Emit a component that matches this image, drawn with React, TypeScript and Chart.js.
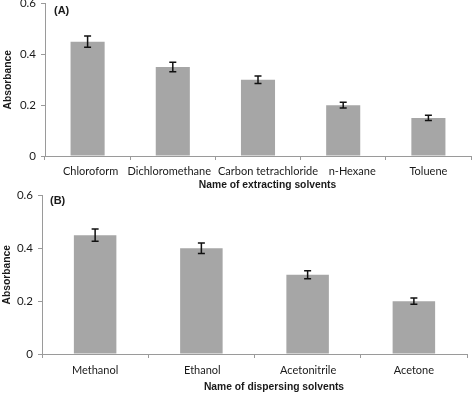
import React, { useEffect, useRef } from "react";
import { Chart, registerables } from "chart.js";

Chart.register(...registerables);

const extractingSolvents = ["Chloroform", "Dichloromethane", "Carbon tetrachloride", "n-Hexane", "Toluene"];
const extractingAbs = [0.45, 0.35, 0.30, 0.20, 0.15];
const extractingErr = [0.022, 0.019, 0.015, 0.011, 0.01];

const dispersingSolvents = ["Methanol", "Ethanol", "Acetonitrile", "Acetone"];
const dispersingAbs = [0.45, 0.40, 0.30, 0.20];
const dispersingErr = [0.023, 0.02, 0.015, 0.012];

const yTicks = [0, 0.2, 0.4, 0.6];

const AXIS = "#9a9a9a";
const BAR = "#a6a6a6";
const TEXT = "#1a1a1a";
const TICK_FONT = "Lato, 'Liberation Sans', sans-serif";

const errorBarPlugin = {
  id: "errorBars",
  afterDatasetsDraw(chart: any, _args: any, opts: any) {
    const errs: number[] = opts.errors || [];
    const meta = chart.getDatasetMeta(0);
    const yScale = chart.scales.y;
    const ctx = chart.ctx;
    const vals = chart.data.datasets[0].data as number[];
    ctx.save();
    ctx.strokeStyle = "#111";
    ctx.lineWidth = 1.5;
    meta.data.forEach((bar: any, i: number) => {
      const x = bar.x;
      const yHi = yScale.getPixelForValue(vals[i] + errs[i]);
      const yLo = yScale.getPixelForValue(vals[i] - errs[i]);
      ctx.beginPath();
      ctx.moveTo(x, yHi);
      ctx.lineTo(x, yLo);
      ctx.moveTo(x - 3.5, yHi);
      ctx.lineTo(x + 3.5, yHi);
      ctx.moveTo(x - 3.5, yLo);
      ctx.lineTo(x + 3.5, yLo);
      ctx.stroke();
    });
    ctx.restore();
  },
};

const labelPlugin = {
  id: "panelLabels",
  afterDraw(chart: any, _args: any, opts: any) {
    const ctx = chart.ctx;
    const ca = chart.chartArea;
    const xScale = chart.scales.x;
    ctx.save();
    ctx.fillStyle = TEXT;
    // category labels (placed as in the original figure)
    ctx.textBaseline = "middle";
    ctx.textAlign = "center";
    ctx.font = `11px ${TICK_FONT}`;
    (chart.data.labels as string[]).forEach((lab, i) => {
      const x = xScale.getPixelForValue(i) + (opts.labelShift[i] || 0);
      ctx.fillText(lab, x, ca.bottom + opts.labelDy);
    });
    // panel tag
    ctx.textAlign = "left";
    ctx.font = "bold 11px 'Liberation Sans', Arial, sans-serif";
    ctx.fillText(opts.panel, ca.left + opts.panelDx, ca.top + opts.panelDy);
    // x-axis title
    ctx.textAlign = "center";
    ctx.font = "bold 10.3px 'Liberation Sans', Arial, sans-serif";
    ctx.fillText(opts.xTitle, (ca.left + ca.right) / 2 + opts.titleDx, opts.titleY);
    ctx.restore();
  },
};

type PanelProps = {
  labels: string[];
  values: number[];
  errors: number[];
  panel: string;
  xTitle: string;
  top: number;
  height: number;
  yWidth: number;
  padTop: number;
  padRight: number;
  xHeight: number;
  yTitlePad: number;
  titleDx: number;
  titleY: number;
  panelDx: number;
  panelDy: number;
  labelShift: number[];
  labelDy: number;
};

function Panel(p: PanelProps) {
  const ref = useRef<HTMLCanvasElement>(null);
  useEffect(() => {
    if (!ref.current) return;
    const chart = new Chart(ref.current, {
      type: "bar",
      data: {
        labels: p.labels,
        datasets: [
          {
            data: p.values,
            backgroundColor: BAR,
            borderWidth: 0,
            barPercentage: 0.4,
            categoryPercentage: 1,
          },
        ],
      },
      plugins: [errorBarPlugin, labelPlugin],
      options: {
        animation: false,
        responsive: false,
        maintainAspectRatio: false,
        layout: { padding: { left: 0, right: p.padRight, top: p.padTop, bottom: 0 } },
        plugins: {
          legend: { display: false },
          tooltip: { enabled: false },
          errorBars: { errors: p.errors },
          panelLabels: {
            panel: p.panel,
            xTitle: p.xTitle,
            titleDx: p.titleDx,
            titleY: p.titleY,
            panelDx: p.panelDx,
            panelDy: p.panelDy,
            labelShift: p.labelShift,
            labelDy: p.labelDy,
          },
        } as any,
        scales: {
          x: {
            offset: true,
            grid: {
              offset: true,
              drawOnChartArea: false,
              drawTicks: true,
              tickLength: 4,
              color: AXIS,
            },
            border: { color: AXIS, width: 1 },
            ticks: { display: false, autoSkip: false },
            afterFit(scale: any) {
              scale.height = p.xHeight;
              scale.paddingLeft = 0;
              scale.paddingRight = 0;
            },
          },
          y: {
            min: 0,
            max: 0.6,
            afterBuildTicks(scale: any) {
              scale.ticks = yTicks.map((v) => ({ value: v }));
            },
            grid: {
              drawOnChartArea: false,
              drawTicks: true,
              tickLength: 4,
              color: AXIS,
            },
            border: { color: AXIS, width: 1 },
            ticks: {
              color: TEXT,
              padding: 5,
              font: { family: TICK_FONT, size: 11.5 },
              callback: (v: any) => String(Math.round(Number(v) * 10) / 10),
            },
            title: {
              display: true,
              text: "Absorbance",
              color: TEXT,
              padding: { top: p.yTitlePad, bottom: 0 },
              font: { family: "'Liberation Sans', Arial, sans-serif", size: 10.3, weight: "bold" },
            },
            afterFit(scale: any) {
              scale.width = p.yWidth;
              scale.paddingTop = 0;
              scale.paddingBottom = 0;
            },
          },
        },
      },
    } as any);
    return () => chart.destroy();
  }, []);
  return (
    <canvas
      ref={ref}
      width={474}
      height={p.height}
      style={{ position: "absolute", left: 0, top: p.top, width: 474, height: p.height }}
    />
  );
}

export default function App() {
  return (
    <div
      style={{
        position: "fixed",
        left: 0,
        top: 0,
        width: 474,
        height: 394,
        background: "#ffffff",
        overflow: "hidden",
      }}
    >
      <Panel
        labels={extractingSolvents}
        values={extractingAbs}
        errors={extractingErr}
        panel="(A)"
        xTitle="Name of extracting solvents"
        top={0}
        height={195}
        yWidth={45}
        padTop={3.5}
        padRight={3}
        xHeight={39}
        yTitlePad={2}
        titleDx={9.5}
        titleY={185}
        panelDx={9}
        panelDy={7.5}
        labelShift={[3, -3.5, 10, 9, 0]}
        labelDy={15}
      />
      <Panel
        labels={dispersingSolvents}
        values={dispersingAbs}
        errors={dispersingErr}
        panel="(B)"
        xTitle="Name of dispersing solvents"
        top={188}
        height={206}
        yWidth={42}
        padTop={7.5}
        padRight={7}
        xHeight={40}
        yTitlePad={1}
        titleDx={19.5}
        titleY={199}
        panelDx={8}
        panelDy={5.5}
        labelShift={[0, 1, 0.5, 0]}
        labelDy={16}
      />
    </div>
  );
}
